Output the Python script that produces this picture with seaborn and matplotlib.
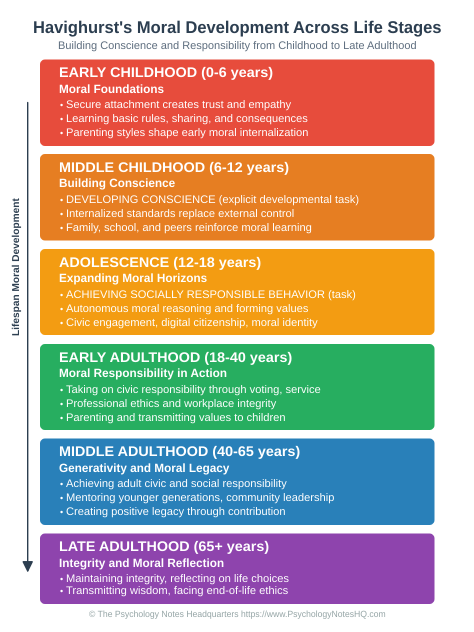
import matplotlib
matplotlib.use("Agg")
import matplotlib.pyplot as plt
from matplotlib.patches import FancyBboxPatch
import seaborn as sns

title = "Havighurst's Moral Development Across Life Stages"
subtitle = "Building Conscience and Responsibility from Childhood to Late Adulthood"
footer = "© The Psychology Notes Headquarters https://www.PsychologyNotesHQ.com"
arrow_label = "Lifespan Moral Development"

stages = ["EARLY CHILDHOOD (0-6 years)", "MIDDLE CHILDHOOD (6-12 years)", "ADOLESCENCE (12-18 years)",
          "EARLY ADULTHOOD (18-40 years)", "MIDDLE ADULTHOOD (40-65 years)", "LATE ADULTHOOD (65+ years)"]
themes = ["Moral Foundations", "Building Conscience", "Expanding Moral Horizons",
          "Moral Responsibility in Action", "Generativity and Moral Legacy", "Integrity and Moral Reflection"]
bullets = [
    ["Secure attachment creates trust and empathy", "Learning basic rules, sharing, and consequences",
     "Parenting styles shape early moral internalization"],
    ["DEVELOPING CONSCIENCE (explicit developmental task)", "Internalized standards replace external control",
     "Family, school, and peers reinforce moral learning"],
    ["ACHIEVING SOCIALLY RESPONSIBLE BEHAVIOR (task)", "Autonomous moral reasoning and forming values",
     "Civic engagement, digital citizenship, moral identity"],
    ["Taking on civic responsibility through voting, service", "Professional ethics and workplace integrity",
     "Parenting and transmitting values to children"],
    ["Achieving adult civic and social responsibility", "Mentoring younger generations, community leadership",
     "Creating positive legacy through contribution"],
    ["Maintaining integrity, reflecting on life choices", "Transmitting wisdom, facing end-of-life ethics"],
]
colors = ["#E74C3C", "#E67E22", "#F39C12", "#27AE60", "#2980B9", "#8E44AD"]
tops = [59.5, 154, 249, 344, 438.5, 533.5]
bottoms = [146, 240.5, 335, 430, 525, 604]

sns.set_theme(style="white")
plt.rcParams["font.family"] = ["Liberation Sans", "DejaVu Sans"]
plt.rcParams["text.hinting"] = "no_hinting"
plt.rcParams["text.hinting_factor"] = 8

fig = plt.figure(figsize=(4.74, 6.32), dpi=100, facecolor="white")
ax = fig.add_axes([0, 0, 1, 1])
ax.set_xlim(0, 474)
ax.set_ylim(632, 0)
ax.axis("off")

ax.text(237, 32.5, title, ha="center", va="baseline", fontsize=11.92, fontweight="bold", color="#2C3E50")
ax.text(237, 50, subtitle, ha="center", va="baseline", fontsize=7.93, color="#5D6D7E")
ax.text(237, 616.7, footer, ha="center", va="baseline", fontsize=6.25, color="#95A5A6")

for stage, theme, items, c, t, b in zip(stages, themes, bullets, colors, tops, bottoms):
    ax.add_patch(FancyBboxPatch((42, t + 2), 390.5, b - t - 4, boxstyle="round,pad=0,rounding_size=3",
                                mutation_aspect=1, linewidth=4 * 0.72, edgecolor=c, facecolor=c, joinstyle="round"))
    ax.text(59.5, t + 18, stage, va="baseline", fontsize=10.4, fontweight="bold", color="white")
    ax.text(59.5, t + 33.6, theme, va="baseline", fontsize=8.5, fontweight="bold", color="white")
    step = 12 if len(items) == 2 else 14
    for i, item in enumerate(items):
        y = t + 49.7 + i * step
        ax.text(59.3, y - 1, "•", va="baseline", fontsize=6.5, color="white")
        ax.text(66, y, item, va="baseline", fontsize=7.97, color="white")

ax.annotate("", xy=(27.7, 572.5), xytext=(27.7, 102.5),
            arrowprops=dict(arrowstyle="-|>,head_width=0.27,head_length=0.55", color="#2C3E50", lw=1.0,
                            shrinkA=0, shrinkB=0, mutation_scale=12))
ax.text(17.3, 266, arrow_label, rotation=90, ha="center", va="center", fontsize=7.3,
        fontweight="bold", color="#2C3E50")

fig.savefig("out.png", dpi=100)
